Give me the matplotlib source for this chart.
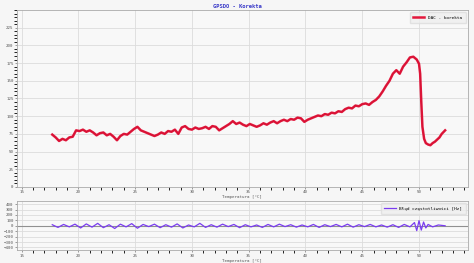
import matplotlib
matplotlib.use("Agg")
import matplotlib.pyplot as plt
from matplotlib.ticker import MultipleLocator

# DAC correction vs temperature
temps = [17.7, 18.0, 18.3, 18.6, 18.9, 19.2, 19.5, 19.8, 20.1, 20.4, 20.7, 21.0, 21.3, 21.6,
         21.9, 22.2, 22.5, 22.8, 23.1, 23.4, 23.7, 24.0, 24.3, 24.6, 24.9, 25.2, 25.5, 25.8,
         26.1, 26.4, 26.7, 27.0, 27.3, 27.6, 27.9, 28.2, 28.5, 28.8, 29.1, 29.4, 29.7, 30.0,
         30.3, 30.6, 30.9, 31.2, 31.5, 31.8, 32.1, 32.4, 32.7, 33.0, 33.3, 33.6, 33.9, 34.2,
         34.5, 34.8, 35.1, 35.4, 35.7, 36.0, 36.3, 36.6, 36.9, 37.2, 37.5, 37.8, 38.1, 38.4,
         38.7, 39.0, 39.3, 39.6, 39.9, 40.2, 40.5, 40.8, 41.1, 41.4, 41.7, 42.0, 42.3, 42.6,
         42.9, 43.2, 43.5, 43.8, 44.1, 44.4, 44.7, 45.0, 45.3, 45.6, 45.9, 46.2, 46.5, 46.8,
         47.1, 47.4, 47.7, 48.0, 48.3, 48.6, 48.9, 49.2, 49.5, 49.8, 50.0, 50.1, 50.2, 50.3,
         50.45, 50.6, 50.8, 51.0, 51.2, 51.4, 51.6, 51.8, 52.0, 52.3]
dac = [74, 70, 65, 68, 66, 70, 71, 80, 79, 81, 78, 80, 77, 73,
       76, 77, 73, 75, 71, 66, 72, 75, 74, 78, 82, 85, 80, 78,
       76, 74, 72, 74, 77, 75, 79, 78, 81, 75, 84, 86, 82, 81,
       84, 82, 83, 85, 82, 86, 85, 80, 83, 86, 89, 93, 89, 91,
       88, 86, 89, 87, 85, 87, 90, 88, 91, 93, 90, 93, 95, 93,
       96, 95, 98, 97, 92, 95, 97, 99, 101, 100, 103, 102, 105, 104,
       107, 106, 110, 112, 111, 115, 114, 117, 118, 116, 120, 123, 128, 135,
       143, 150, 160, 165, 160, 170, 176, 183, 184, 180, 174, 160, 120, 85,
       68, 62, 60, 59, 62, 64, 67, 70, 75, 80]

# frequency error [Hz]
err_t = [17.7, 18.2, 18.7, 19.2, 19.7, 20.2, 20.7, 21.2, 21.7, 22.2, 22.7, 23.2, 23.7, 24.2,
         24.7, 25.2, 25.7, 26.2, 26.7, 27.2, 27.7, 28.2, 28.7, 29.2, 29.7, 30.2, 30.7, 31.2,
         31.7, 32.2, 32.7, 33.2, 33.7, 34.2, 34.7, 35.2, 35.7, 36.2, 36.7, 37.2, 37.7, 38.2,
         38.7, 39.2, 39.7, 40.2, 40.7, 41.2, 41.7, 42.2, 42.7, 43.2, 43.7, 44.2, 44.7, 45.2,
         45.7, 46.2, 46.7, 47.2, 47.7, 48.2, 48.7, 49.2, 49.6, 49.8, 50.0, 50.2, 50.4, 50.6,
         50.8, 51.2, 51.7, 52.3]
err = [20, -30, 25, -20, 30, -40, 35, -25, 45, -35, 20, -50, 30, -20,
       40, -45, 25, -15, 30, -35, 20, -25, 35, -40, 15, -20, 45, -30,
       20, -25, 30, -15, 25, -35, 20, -20, 15, -30, 25, -20, 30, -15,
       20, -25, 15, -20, 25, -30, 20, -15, 25, -20, 30, -25, 20, -15,
       25, -20, 15, -25, 20, -30, 25, -20, 60, -90, 95, -80, 70, -40,
       25, -20, 15, 0]

xticks = [15, 20, 25, 30, 35, 40, 45, 50]

plt.rcParams["font.family"] = "DejaVu Sans Mono"
fig = plt.figure(figsize=(4.74, 2.63), dpi=100, facecolor="#f6f6f6")
ax1 = fig.add_axes([0.036, 0.289, 0.951, 0.673], facecolor="#f8f8f8")
ax2 = fig.add_axes([0.036, 0.048, 0.951, 0.188], facecolor="#f8f8f8")

ax1.plot(temps, dac, color="#e3173c", lw=1.8, label="DAC - korekta")
ax1.plot(temps, dac, color="#c8102e", lw=0.5, alpha=0.7)
ax2.axhline(0, color="#909090", lw=0.8)
ax2.plot(err_t, err, color="#7a3cf0", lw=0.9, label="Błąd częstotliwości [Hz]")

for ax in (ax1, ax2):
    ax.set_xlim(14.6, 54.3)
    ax.set_xticks(xticks)
    ax.grid(True, color="#dcdcdc", lw=0.6)
    ax.tick_params(labelsize=3, length=1.5, width=0.4, pad=1, colors="#555555")
    ax.xaxis.set_minor_locator(MultipleLocator(1))
    for s in ax.spines.values():
        s.set_color("#aaaaaa")
        s.set_linewidth(0.6)
    ax.set_xlabel("Temperatura [°C]", fontsize=3, color="#555555", labelpad=0.5)
    ax.legend(loc="upper right", fontsize=3.2, frameon=True, facecolor="#eeeeee",
              edgecolor="#dddddd", handlelength=2.5, borderpad=0.8)

ax1.set_ylim(0, 250)
ax1.set_yticks([0, 25, 50, 75, 100, 125, 150, 175, 200, 225])
ax1.yaxis.set_minor_locator(MultipleLocator(5))
ax2.set_ylim(-455, 460)
ax2.set_yticks([-400, -300, -200, -100, 0, 100, 200, 300, 400])

fig.text(0.5, 0.985, "GPSDO - Korekta", ha="center", va="top", fontsize=4,
         fontweight="bold", color="#3a3ac8")

fig.savefig("out.png", dpi=100, facecolor=fig.get_facecolor())
